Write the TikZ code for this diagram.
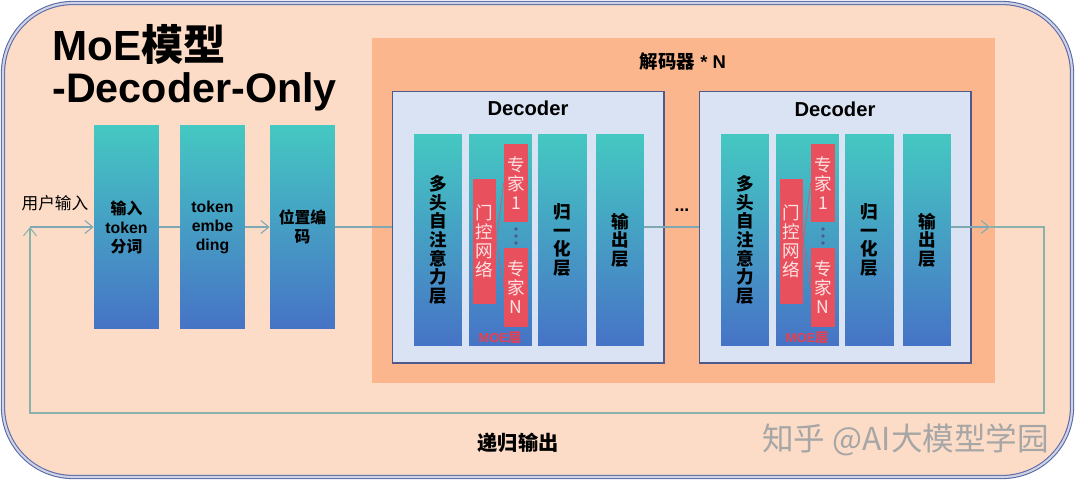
\documentclass[tikz,border=0pt]{standalone}
\usepackage{fontspec}
\setmainfont{Liberation Sans}
\newfontfamily\cjk{Noto Sans CJK SC}
\usepackage{xcolor}
\usetikzlibrary{arrows.meta}

\definecolor{peach}{HTML}{FDDCC7}
\definecolor{framec}{HTML}{5A68A6}
\definecolor{orangec}{HTML}{FBB68E}
\definecolor{decfill}{HTML}{DAE3F3}
\definecolor{decdraw}{HTML}{4F5A8A}
\definecolor{tealtop}{HTML}{45C8C2}
\definecolor{bluebot}{HTML}{4673C6}
\definecolor{gatered}{HTML}{E9505E}
\definecolor{redtext}{HTML}{FDE3E3}
\definecolor{moered}{HTML}{E8404F}
\definecolor{linec}{HTML}{7FA8B4}
\definecolor{loopc}{HTML}{8AB2AC}

\tikzset{
  layer/.style={rectangle, draw=none, top color=tealtop, bottom color=bluebot, inner sep=0pt, align=center, font=\cjk\bfseries\fontsize{10}{10.6}\selectfont},
  inbox/.style={layer, minimum width=1.3cm, minimum height=4.06cm, font=\cjk\bfseries\fontsize{9}{10.8}\selectfont},
  declayer/.style={layer, minimum height=4.24cm},
  decframe/.style={rectangle, draw=decdraw, line width=0.6pt, fill=decfill, minimum width=5.44cm, minimum height=5.44cm, inner sep=0pt},
  dectitle/.style={font=\bfseries\fontsize{11.5}{12}\selectfont},
  gatebox/.style={rectangle, fill=gatered, text=redtext, inner sep=0pt, align=center, minimum width=0.46cm, minimum height=2.5cm, font=\cjk\fontsize{10}{10.8}\selectfont},
  expbox/.style={gatebox, minimum width=0.48cm, minimum height=1.57cm},
  moelabel/.style={text=moered, font=\bfseries\fontsize{7.4}{8}\selectfont, inner sep=0pt},
  dot/.style={circle, fill=decdraw, inner sep=0pt, minimum size=2.2pt},
  flow/.style={draw=linec, line width=0.6pt},
  arrowline/.style={flow, -{Straight Barb[length=1.6mm, width=2.6mm]}},
  loopline/.style={draw=loopc, line width=0.6pt, -{Straight Barb[length=1.6mm, width=2.6mm]}},
  fanline/.style={draw=gatered!70!gray, line width=0.4pt},
}

\begin{document}
\begin{tikzpicture}[x=0.02cm, y=-0.02cm]
  \useasboundingbox (0,0) rectangle (1080,487);

  % outer frame
  \draw[draw=framec, line width=0.6pt, double=framec!30!white, double distance=1.2pt, fill=peach, rounded corners=1.4cm] (3,3) rectangle (1072,477);

  % title
  \node[anchor=base west, inner sep=0pt, font=\bfseries\fontsize{24}{26}\selectfont] (title1) at (52,60) {MoE{\cjk\bfseries 模型}};
  \node[anchor=base west, inner sep=0pt, font=\bfseries\fontsize{23.5}{26}\selectfont] (title2) at (52,102) {-Decoder-Only};

  % input side
  \node[font=\cjk\fontsize{9.5}{10}\selectfont, inner sep=0pt] (userlab) at (55,203) {用户输入};
  \node[inbox] (in1) at (126.5,227) {输入\\{\rmfamily token}\\分词};
  \node[inbox, font=\bfseries\fontsize{9}{10.8}\selectfont] (emb) at (212.5,227) {token\\embe\\ding};
  \node[inbox] (pos) at (302.5,227) {位置编\\码};

  % decoder stack
  \node[rectangle, fill=orangec, minimum width=12.46cm, minimum height=6.9cm, inner sep=0pt] (stack) at (683.5,210.5) {};
  \node[font=\bfseries\fontsize{10.5}{11}\selectfont] (stacklab) at (683,62) {{\cjk\bfseries 解码器} * N};

  % decoder 1
  \node[decframe] (dec1) at (528,227) {};
  \node[dectitle] (dec1lab) at (528,108) {Decoder};
  \node[declayer, minimum width=0.96cm] (d1att) at (438,240) {多\\头\\自\\注\\意\\力\\层};
  \node[declayer, minimum width=1.26cm] (d1moe) at (500.5,240) {};
  \node[gatebox] (d1gate) at (484.5,241.5) {门\\控\\网\\络};
  \node[expbox] (d1exp1) at (516,183) {专\\家\\1};
  \node[expbox] (d1expN) at (516,287.5) {专\\家\\N};
  \node[dot] (d1dotA) at (516,229) {};
  \node[dot] (d1dotB) at (516,236) {};
  \node[dot] (d1dotC) at (516,243) {};
  \node[moelabel] (d1lab) at (500,338) {MOE{\cjk\bfseries 层}};
  \node[declayer, minimum width=0.98cm] (d1norm) at (562.5,240) {归\\一\\化\\层};
  \node[declayer, minimum width=0.96cm] (d1out) at (620,240) {输\\出\\层};

  % decoder 2
  \node[decframe] (dec2) at (835,227) {};
  \node[dectitle] (dec2lab) at (835,109) {Decoder};
  \node[declayer, minimum width=0.96cm] (d2att) at (745,240) {多\\头\\自\\注\\意\\力\\层};
  \node[declayer, minimum width=1.26cm] (d2moe) at (807.5,240) {};
  \node[gatebox] (d2gate) at (791.5,241.5) {门\\控\\网\\络};
  \node[expbox] (d2exp1) at (823,183) {专\\家\\1};
  \node[expbox] (d2expN) at (823,287.5) {专\\家\\N};
  \node[dot] (d2dotA) at (823,229) {};
  \node[dot] (d2dotB) at (823,236) {};
  \node[dot] (d2dotC) at (823,243) {};
  \node[moelabel] (d2lab) at (807,338) {MOE{\cjk\bfseries 层}};
  \node[declayer, minimum width=0.98cm] (d2norm) at (869.5,240) {归\\一\\化\\层};
  \node[declayer, minimum width=0.96cm] (d2out) at (927,240) {输\\出\\层};

  \node[font=\bfseries\fontsize{10}{10}\selectfont, inner sep=0pt] (between) at (682,210) {...};

  % gate to experts
  \draw[fanline] (d1gate.east) -- (d1exp1.west);
  \draw[fanline] (d1gate.east) -- (d1expN.west);
  \draw[fanline] (d2gate.east) -- (d2exp1.west);
  \draw[fanline] (d2gate.east) -- (d2expN.west);

  % main flow
  \coordinate (userin) at (30,227);
  \coordinate (outtip) at (990,227);
  \coordinate (loopNE) at (1044,227);
  \coordinate (loopSE) at (1044,413);
  \coordinate (loopSW) at (30,413);

  \draw[arrowline] (userin) -- (in1.west);
  \draw[flow] (in1.east) -- (emb.west);
  \draw[arrowline] (emb.east) -- (pos.west);
  \draw[flow] (pos.east) -- (dec1.west);
  \draw[flow] (d1out.east |- dec2.west) -- (dec2.west);
  \draw[arrowline] (d2out.east |- outtip) -- (outtip);
  \draw[loopline] (outtip) -- (loopNE) -- (loopSE) -- (loopSW) -- (userin);

  \node[font=\cjk\bfseries\fontsize{11.5}{12}\selectfont, inner sep=0pt] (looplab) at (518,443) {递归输出};
  \node[anchor=west, text=gray!70, font=\cjk\fontsize{18}{19}\selectfont, inner sep=0pt] (mark) at (762,440) {知乎 @AI大模型学园};
\end{tikzpicture}
\end{document}
